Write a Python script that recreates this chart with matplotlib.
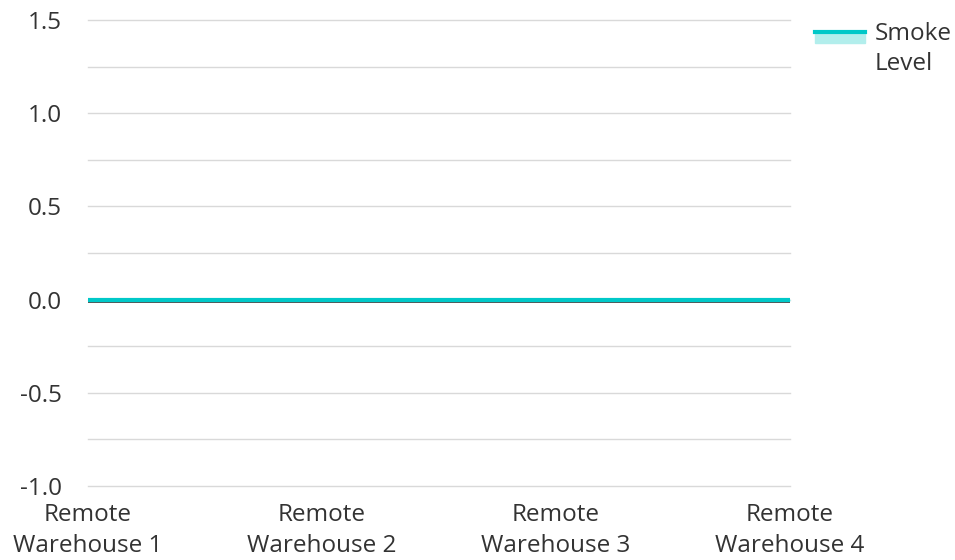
import matplotlib.pyplot as plt
import matplotlib.transforms as mtransforms
from matplotlib.patches import Rectangle
from matplotlib.lines import Line2D

plt.rcParams['font.family'] = ['Open Sans', 'DejaVu Sans']

# data
locations = ['Remote\nWarehouse 1', 'Remote\nWarehouse 2', 'Remote\nWarehouse 3', 'Remote\nWarehouse 4']
smoke_level = [0, 0, 0, 0]
y_ticks = [-1.0, -0.5, 0.0, 0.5, 1.0, 1.5]
y_grid = [-1.0, -0.75, -0.5, -0.25, 0.0, 0.25, 0.5, 0.75, 1.0, 1.25, 1.5]

line_color = '#00c8c8'
fill_color = '#b2eeec'
text_color = '#333333'
fs = 17.5

fig = plt.figure(figsize=(9.55, 5.6), dpi=100)
ax = fig.add_axes([88 / 955, 1 - 486 / 560, (790 - 88) / 955, (486 - 20) / 560])

x = list(range(len(locations)))
for g in y_grid:
    ax.axhline(g, color='#d9d9d9', linewidth=1, zorder=1, clip_on=False)

# zero baseline, sits just under the series line
shift = mtransforms.offset_copy(ax.transData, fig=fig, x=0, y=-2, units='dots')
ax.plot([x[0], x[-1]], [0, 0], color='#333333', linewidth=1.2, zorder=2,
        transform=shift)

ax.fill_between(x, smoke_level, 0, color=fill_color, zorder=2)
ax.plot(x, smoke_level, color=line_color, linewidth=3, zorder=3)

ax.set_xlim(x[0], x[-1])
ax.set_ylim(-1.0, 1.5)
ax.set_yticks(y_ticks)
ax.set_yticklabels([f'{v:.1f}' for v in y_ticks])
ax.set_xticks(x)
ax.set_xticklabels(locations, linespacing=1.4)
ax.tick_params(axis='both', length=0, labelsize=fs, labelcolor=text_color)
ax.tick_params(axis='y', pad=19)
ax.tick_params(axis='x', pad=12)
for s in ax.spines.values():
    s.set_visible(False)

# legend
fig.patches.append(Rectangle((815 / 955, 1 - 43 / 560), 50 / 955, 11 / 560,
                             transform=fig.transFigure, color=fill_color))
fig.lines.append(Line2D([815 / 955, 865 / 955], [1 - 31.5 / 560, 1 - 31.5 / 560],
                        transform=fig.transFigure, color=line_color, linewidth=3))
fig.text(875 / 955, 1 - 22 / 560, 'Smoke\nLevel', fontsize=fs, color=text_color,
         va='top', ha='left', linespacing=1.35)

fig.savefig('out.png', dpi=100)
